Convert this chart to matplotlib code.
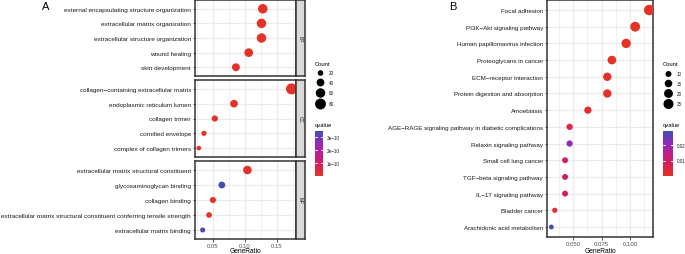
import numpy as np
import matplotlib
matplotlib.use("Agg")
import matplotlib.pyplot as plt
from matplotlib.colors import LinearSegmentedColormap, Normalize
from matplotlib.transforms import Bbox, TransformedBbox

plt.rcParams['font.family'] = ['Liberation Sans', 'DejaVu Sans']

# ---- panel A data (GO enrichment) ----
bp_terms = ['external encapsulating structure organization', 'extracellular matrix organization',
            'extracellular structure organization', 'wound healing', 'skin development']
bp_ratio = [0.128, 0.126, 0.126, 0.106, 0.086]
bp_count = [61, 60, 60, 50, 41]
bp_q = [1e-20, 1e-20, 1e-20, 1e-18, 1e-15]

cc_terms = ['collagen\u2212containing extracellular matrix', 'endoplasmic reticulum lumen',
            'collagen trimer', 'cornified envelope', 'complex of collagen trimers']
cc_ratio = [0.173, 0.083, 0.053, 0.036, 0.028]
cc_count = [82, 39, 25, 17, 13]
cc_q = [1e-30, 1e-12, 1e-14, 1e-12, 1e-11]

mf_terms = ['extracellular matrix structural constituent', 'glycosaminoglycan binding',
            'collagen binding', 'extracellular matrix structural constituent conferring tensile strength',
            'extracellular matrix binding']
mf_ratio = [0.104, 0.064, 0.050, 0.044, 0.034]
mf_count = [49, 30, 24, 21, 16]
mf_q = [1e-25, 3.5e-10, 1e-13, 1e-12, 3.3e-10]

# ---- panel B data (KEGG enrichment) ----
kegg_terms = ['Focal adhesion', 'PI3K\u2212Akt signaling pathway', 'Human papillomavirus infection',
              'Proteoglycans in cancer', 'ECM\u2212receptor interaction', 'Protein digestion and absorption',
              'Amoebiasis', 'AGE\u2212RAGE signaling pathway in diabetic complications',
              'Relaxin signaling pathway', 'Small cell lung cancer', 'TGF\u2212beta signaling pathway',
              'IL\u221217 signaling pathway', 'Bladder cancer', 'Arachidonic acid metabolism']
kegg_ratio = [0.1167, 0.1044, 0.0965, 0.084, 0.080, 0.080, 0.063, 0.047, 0.047, 0.043, 0.043, 0.043,
              0.034, 0.031]
kegg_count = [27, 24, 22, 19, 18, 18, 14, 11, 11, 10, 10, 10, 8, 7]
kegg_q = [1e-6, 1e-5, 2e-4, 1e-4, 1e-4, 2e-4, 0.002, 0.005, 0.021, 0.009, 0.009, 0.009, 0.002, 0.029]

cmap = LinearSegmentedColormap.from_list(
    'q', ['#E53228', '#D91F55', '#BE1E8F', '#8B2FB8', '#3F4FB0'], N=256)

W, H = 685, 255
fig = plt.figure(figsize=(W / 100, H / 100), dpi=100)
EDGE = '#333333'


def fx(px):
    return px / W


def fy(py):
    return 1 - py / H


def size_fn(counts, cmin, cmax, dmin, dmax):
    c = np.sqrt(np.asarray(counts, float))
    d = dmin + (dmax - dmin) * (c - np.sqrt(cmin)) / (np.sqrt(cmax) - np.sqrt(cmin))
    return (d * 72 / 100) ** 2


def panel(rect, terms, ratio, count, q, norm, xlim, xticks, xlabels, minor, sz, fs, bottom=False):
    ax = fig.add_axes(rect)
    y = np.arange(len(terms))
    ax.set_xlim(*xlim)
    ax.set_ylim(len(terms) - 0.4, -0.6)
    ax.set_xticks(xticks)
    ax.set_xticks(minor, minor=True)
    ax.set_yticks(y)
    ax.set_yticklabels(terms, fontsize=fs, color='#1A1A1A')
    ax.grid(True, which='major', color='#EBEBEB', lw=0.9)
    ax.grid(True, which='minor', axis='x', color='#EBEBEB', lw=0.5)
    ax.set_axisbelow(True)
    ax.scatter(ratio, y, s=sz, c=q, cmap=cmap, norm=norm, edgecolors='none', zorder=3)
    for s in ax.spines.values():
        s.set_color(EDGE)
        s.set_linewidth(1.1)
    ax.tick_params(axis='y', length=1.8, width=0.6, color=EDGE, pad=1)
    ax.tick_params(axis='x', which='both', length=0 if not bottom else 1.8, width=0.6, color=EDGE, pad=1.0)
    ax.tick_params(axis='x', which='minor', length=0)
    if bottom:
        ax.set_xticklabels(xlabels, fontsize=4.3, color='#4D4D4D')
    else:
        ax.set_xticklabels([])
    return ax


def strip(rect, label):
    sa = fig.add_axes(rect)
    sa.set_facecolor('#D9D9D9')
    sa.set_xticks([])
    sa.set_yticks([])
    for s in sa.spines.values():
        s.set_color(EDGE)
        s.set_linewidth(1.1)
    sa.text(0.5, 0.5, label, rotation=-90, ha='center', va='center', fontsize=3.5,
            color='#1A1A1A', transform=sa.transAxes)


# ---- panel A ----
normA = Normalize(0, 3.5e-10)
szA = lambda c: size_fn(c, 13, 82, 4.6, 11.0)
xlimA = (0.022, 0.18)
tA = [0.05, 0.10, 0.15]
mA = [0.025, 0.075, 0.125, 0.175]
labA = ['0.05', '0.10', '0.15']
rows = [(1, 77, bp_terms, bp_ratio, bp_count, bp_q, 'BP'),
        (81, 158, cc_terms, cc_ratio, cc_count, cc_q, 'CC'),
        (162, 240, mf_terms, mf_ratio, mf_count, mf_q, 'MF')]
for i, (top, bot, t, r, c, qq, lab) in enumerate(rows):
    rect = [fx(195), fy(bot), fx(296 - 195), (bot - top) / H]
    panel(rect, t, r, c, qq, normA, xlimA, tA, labA, mA, szA(c), 4.55, bottom=(i == 2))
    strip([fx(296), fy(bot), fx(9), (bot - top) / H], lab)

# ---- panel B ----
normB = Normalize(0, 0.0293)
szB = lambda c: size_fn(c, 7, 27, 4.8, 10.5)
panel([fx(547), fy(238), fx(653 - 547), 237 / H], kegg_terms, kegg_ratio, kegg_count, kegg_q, normB,
      (0.0272, 0.120), [0.05, 0.075, 0.10], ['0.050', '0.075', '0.100'],
      [0.0375, 0.0625, 0.0875, 0.1125], szB(kegg_count), 4.5, bottom=True)

# ---- overlay for labels and legends ----
ov = fig.add_axes([0, 0, 1, 1])
ov.set_xlim(0, W)
ov.set_ylim(H, 0)
ov.axis('off')
clipA = TransformedBbox(Bbox([[0, 0], [340 / W, 1]]), fig.transFigure)

ov.text(46, 7, 'A', fontsize=8, ha='center', va='center')
ov.text(453, 7, 'B', fontsize=8, ha='center', va='center')
ov.text(245, 251.5, 'GeneRatio', fontsize=4.8, ha='center', va='center')
ov.text(600, 251.5, 'GeneRatio', fontsize=4.8, ha='center', va='center')

size_legends = [
    (315, [20, 40, 60, 80], szA, [74, 83.5, 94, 105], True),
    (663, [10, 15, 20, 25], szB, [75, 84.5, 94.5, 105], False),
]
for x0, vals, fn, ys, clip in size_legends:
    ov.text(x0, 64, 'Count', fontsize=4.2, va='center', ha='left')
    ov.scatter([x0 + 5.5] * len(vals), ys, s=fn(vals), c='black', edgecolors='none')
    for v, yy in zip(vals, ys):
        t = ov.text(x0 + 14, yy, str(v), fontsize=3.3, va='center', ha='left', color='#1A1A1A')
        if clip:
            t.set_clip_box(clipA)
            t.set_clip_on(True)
    ov.text(x0, 126, 'qvalue', fontsize=4.2, va='center', ha='left')

# colorbars drawn as a smooth gradient image
grad = np.linspace(0, 1, 256).reshape(-1, 1)
cbars = [
    (315, 8, normA, [1e-10, 2e-10, 3e-10], ['1e\u221210', '2e\u221210', '3e\u221210'], True),
    (663, 10, normB, [0.01, 0.02], ['0.01', '0.02'], False),
]
for x0, w, norm, ticks, labs, clip in cbars:
    cax = fig.add_axes([fx(x0), fy(177), fx(w), 45 / H])
    cax.imshow(grad, cmap=cmap, aspect='auto', origin='lower', extent=(0, 1, norm.vmin, norm.vmax),
               interpolation='bilinear')
    cax.set_xlim(0, 1)
    cax.set_ylim(norm.vmin, norm.vmax)
    cax.axis('off')
    for tv, tl in zip(ticks, labs):
        cax.plot([0, 0.2], [tv, tv], color='white', lw=0.6)
        cax.plot([0.8, 1], [tv, tv], color='white', lw=0.6)
        ypix = 177 - 45 * (tv - norm.vmin) / (norm.vmax - norm.vmin)
        t = ov.text(x0 + w + 4, ypix, tl, fontsize=3.3, va='center', ha='left', color='#1A1A1A')
        if clip:
            t.set_clip_box(clipA)
            t.set_clip_on(True)

fig.savefig('out.png', dpi=100)
